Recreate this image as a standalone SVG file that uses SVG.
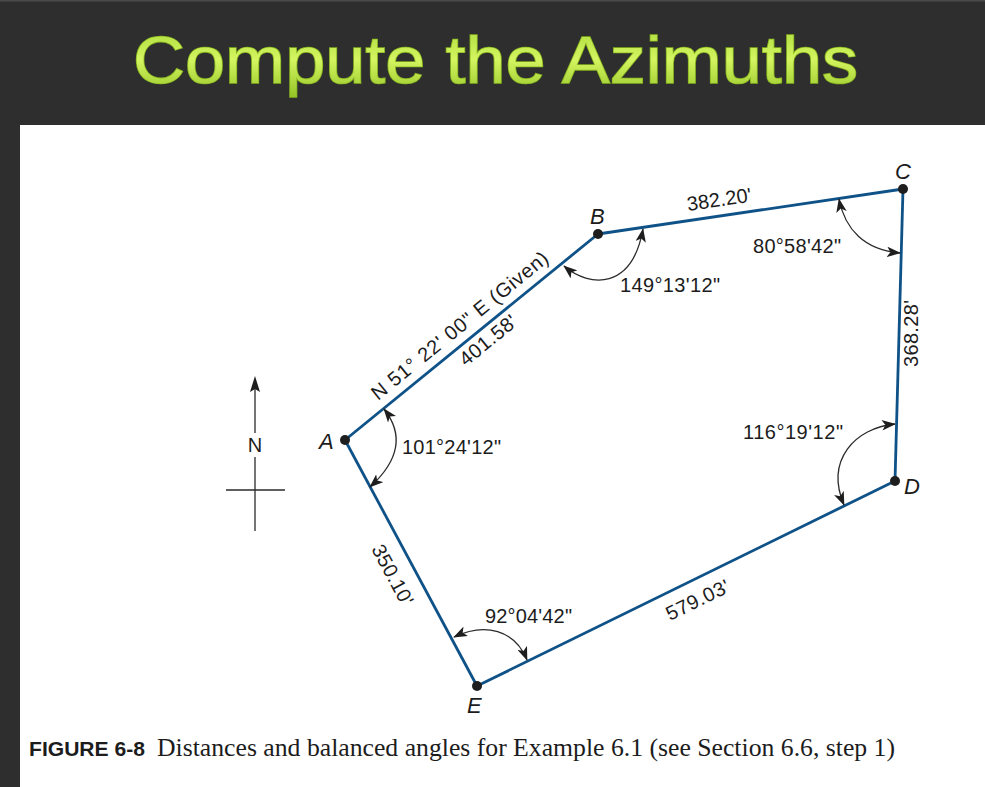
<svg xmlns="http://www.w3.org/2000/svg" width="985" height="787" viewBox="0 0 985 787">
<style>
.edge{fill:none;stroke:#0f5288;stroke-width:2.8}
.arc{fill:none;stroke:#2b2b2b;stroke-width:1.3;marker-start:url(#stealth);marker-end:url(#stealth)}
.thin{fill:none;stroke:#2b2b2b;stroke-width:1.3}
.dot{fill:#1e1e1e}
text{fill:#1c1c1c}
.lbl{font-family:"Liberation Sans",Arial,sans-serif;font-size:20px}
.pt{font-family:"Liberation Sans",Arial,sans-serif;font-size:22px;font-style:italic}
</style>
<defs>
<linearGradient id="g" x1="0" y1="0" x2="0" y2="1">
<stop offset="0" stop-color="#a8d838"/><stop offset="0.5" stop-color="#d4f560"/><stop offset="1" stop-color="#94c426"/>
</linearGradient>
<marker id="stealth" viewBox="0 0 16 12" refX="15" refY="6" markerUnits="userSpaceOnUse" markerWidth="14" markerHeight="10.5" orient="auto-start-reverse">
<path d="M0 0L16 6L0 12L4 6Z" fill="#1e1e1e"/>
</marker>
</defs>
<rect width="985" height="787" fill="#2e2e2e"/>
<rect width="985" height="1.5" fill="#4a4a4a"/>
<rect x="20" y="125" width="965" height="662" fill="#fff"/>
<text id="title" x="133" y="83" textLength="725" lengthAdjust="spacingAndGlyphs" style="font-family:'Liberation Sans',Arial,sans-serif;font-size:67px;fill:url(#g);stroke:#86b31f;stroke-width:1.6;paint-order:stroke">Compute the Azimuths</text>
<g id="connectors">
<path id="AB" class="edge" d="M345 440L598 234"/>
<path id="BC" class="edge" d="M598 234L903 189"/>
<path id="CD" class="edge" d="M903 189L895 481"/>
<path id="DE" class="edge" d="M895 481L477 686"/>
<path id="EA" class="edge" d="M477 686L345 440"/>
<path class="arc" d="M384 409Q414 447 370 487"/>
<path class="arc" d="M564 266C590 288 632 290 643 229"/>
<path class="arc" d="M839 199C845 230 865 250 900 253"/>
<path class="arc" d="M895 424C855 428 825 460 844 505"/>
<path class="arc" d="M454 637C485 622 515 630 527 660"/>
</g>
<g id="north">
<path class="thin" d="M255 433V380M255 457V531M226 490H285"/>
<path d="M255 376L260 392L255 389L250 392Z" fill="#1e1e1e"/>
<text class="lbl" x="255" y="452" text-anchor="middle">N</text>
</g>
<g id="node-A"><circle class="dot" cx="345" cy="440" r="5"/><text class="pt" x="319" y="449">A</text></g>
<g id="node-B"><circle class="dot" cx="598" cy="234" r="5"/><text class="pt" x="590" y="224">B</text></g>
<g id="node-C"><circle class="dot" cx="903" cy="189" r="5"/><text class="pt" x="895" y="179">C</text></g>
<g id="node-D"><circle class="dot" cx="895" cy="481" r="5"/><text class="pt" x="904" y="494">D</text></g>
<g id="node-E"><circle class="dot" cx="477" cy="686" r="5"/><text class="pt" x="467" y="713">E</text></g>
<g id="labels">
<text class="lbl" transform="translate(378 401) rotate(-39.2)" textLength="222">N 51° 22' 00" E (Given)</text>
<text class="lbl" transform="translate(466 367) rotate(-39.2)" textLength="68">401.58'</text>
<text class="lbl" transform="translate(688 211) rotate(-8.4)" textLength="65">382.20'</text>
<text class="lbl" transform="translate(918 367) rotate(-90)" textLength="67">368.28'</text>
<text class="lbl" transform="translate(670 621) rotate(-26.1)" textLength="68">579.03'</text>
<text class="lbl" transform="translate(371 549) rotate(61.8)" textLength="66">350.10'</text>
<text class="lbl" x="402" y="454" textLength="99">101°24'12"</text>
<text class="lbl" x="620" y="292" textLength="100">149°13'12"</text>
<text class="lbl" x="753" y="253" textLength="88">80°58'42"</text>
<text class="lbl" x="743" y="439" textLength="100">116°19'12"</text>
<text class="lbl" x="485" y="623" textLength="87">92°04'42"</text>
</g>
<g id="caption">
<text x="29" y="756" textLength="116" lengthAdjust="spacingAndGlyphs" style="font-family:'Liberation Sans',Arial,sans-serif;font-weight:bold;font-size:20px">FIGURE 6-8</text>
<text x="157" y="756" textLength="738" lengthAdjust="spacingAndGlyphs" style="font-family:'Liberation Serif','Times New Roman',serif;font-size:25px">Distances and balanced angles for Example 6.1 (see Section 6.6, step 1)</text>
</g>
</svg>
